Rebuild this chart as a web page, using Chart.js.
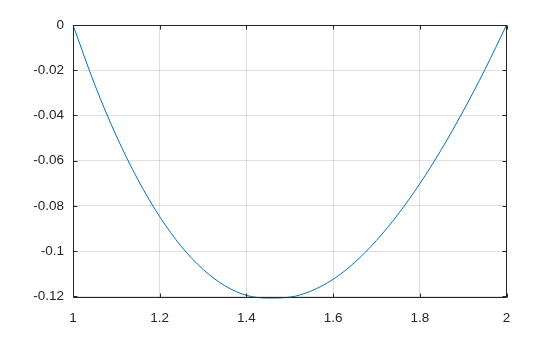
<!DOCTYPE html>
<html>
<head>
<meta charset="utf-8">
<script src="https://cdn.jsdelivr.net/npm/chart.js@4.4.1/dist/chart.umd.min.js"></script>
<style>
  html, body { margin: 0; padding: 0; background: #ffffff; }
  #wrap { width: 560px; height: 337px; }
</style>
</head>
<body>
<div id="wrap"><canvas id="c" width="560" height="337"></canvas></div>
<script>
// ---- data ----
const xValues = [1.00, 1.05, 1.10, 1.15, 1.20, 1.25, 1.30, 1.35, 1.40, 1.45, 1.50, 1.55, 1.60, 1.65, 1.70, 1.75, 1.80, 1.85, 1.90, 1.95, 2.00];
const yValues = [0, -0.0263, -0.0491, -0.0685, -0.0848, -0.0980, -0.1081, -0.1153, -0.1196, -0.1208, -0.1204, -0.1176, -0.1125, -0.1050, -0.0953, -0.0837, -0.0702, -0.0550, -0.0381, -0.0198, 0];
const xTickValues = [1, 1.2, 1.4, 1.6, 1.8, 2];
const yTickValues = [0, -0.02, -0.04, -0.06, -0.08, -0.1, -0.12];
const xRange = [1, 2];
const yRange = [-0.1209, 0];

const points = xValues.map((x, i) => ({ x: x, y: yValues[i] }));
const fmt = v => String(Number(Number(v).toFixed(4)));

const axisColor = '#262626';
const gridColor = 'rgba(38,38,38,0.15)';
const fontSpec = { family: "'Liberation Sans', Arial, Helvetica, sans-serif", size: 13.5 };

const boxPlugin = {
  id: 'matlabBox',
  afterDraw(chart) {
    const { ctx, chartArea: a, scales } = chart;
    const L = Math.round(a.left) + 0.5, R = Math.round(a.right) - 0.5;
    const T = Math.round(a.top) + 0.5, B = Math.round(a.bottom) - 0.5;
    ctx.save();
    ctx.strokeStyle = axisColor;
    ctx.lineWidth = 1;
    ctx.beginPath();
    ctx.rect(L, T, R - L, B - T);
    const tl = 4;
    xTickValues.forEach(v => {
      const px = Math.round(scales.x.getPixelForValue(v)) + 0.5;
      ctx.moveTo(px, B); ctx.lineTo(px, B - tl);
      ctx.moveTo(px, T); ctx.lineTo(px, T + tl);
    });
    yTickValues.forEach(v => {
      const py = Math.round(scales.y.getPixelForValue(v)) + 0.5;
      ctx.moveTo(L, py); ctx.lineTo(L + tl, py);
      ctx.moveTo(R, py); ctx.lineTo(R - tl, py);
    });
    ctx.stroke();
    ctx.restore();
  }
};

new Chart(document.getElementById('c'), {
  type: 'line',
  data: {
    datasets: [{
      data: points,
      borderColor: '#0072BD',
      borderWidth: 1,
      pointRadius: 0,
      fill: false,
      cubicInterpolationMode: 'monotone',
      clip: 2
    }]
  },
  options: {
    responsive: false,
    animation: false,
    devicePixelRatio: 1,
    layout: { padding: { left: 0, right: 53.5, top: 25, bottom: 0 } },
    plugins: { legend: { display: false }, tooltip: { enabled: false } },
    scales: {
      x: {
        type: 'linear',
        min: xRange[0],
        max: xRange[1],
        afterBuildTicks: s => { s.ticks = xTickValues.map(v => ({ value: v })); },
        afterFit: s => { s.height = 337 - 298.3; },
        grid: { color: gridColor, drawTicks: false },
        border: { display: false },
        ticks: { color: axisColor, font: fontSpec, padding: 12, maxRotation: 0, autoSkip: false, callback: v => fmt(v) }
      },
      y: {
        type: 'linear',
        min: yRange[0],
        max: yRange[1],
        afterBuildTicks: s => { s.ticks = yTickValues.map(v => ({ value: v })); },
        afterFit: s => { s.width = 73; },
        grid: { color: gridColor, drawTicks: false },
        border: { display: false },
        ticks: { color: axisColor, font: fontSpec, padding: 9, autoSkip: false, callback: v => fmt(v) }
      }
    }
  },
  plugins: [boxPlugin]
});
</script>
</body>
</html>
